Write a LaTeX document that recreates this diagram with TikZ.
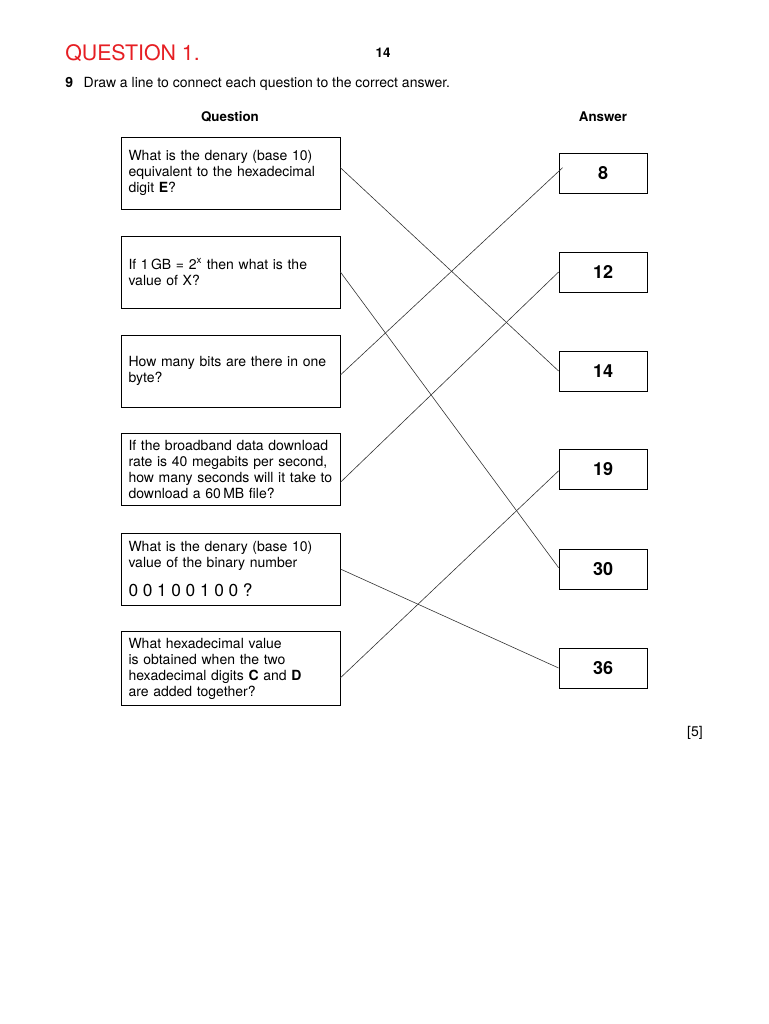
\documentclass[tikz,border=0pt]{standalone}
\usepackage{fontspec}
\setmainfont{TeX Gyre Heros}
\usepackage{xcolor}
\definecolor{titlered}{RGB}{230,30,35}

\begin{document}
\begin{tikzpicture}[x=0.75pt,y=-0.75pt,
	qbox/.style={draw=black,line width=0.6pt,minimum width=164.25pt,minimum height=54pt,
		text width=153pt,inner sep=5pt,align=left,font=\fontsize{10.5}{12}\selectfont},
	abox/.style={draw=black,line width=0.6pt,minimum width=66pt,minimum height=30pt,
		inner sep=0pt,font=\fontsize{13.5}{15}\selectfont\bfseries},
	link/.style={draw=black!80,line width=0.45pt}]
	\useasboundingbox (0,0) rectangle (768,1024);
	% heading
	\node [anchor=base west,inner sep=0pt,text=titlered,font=\fontsize{16}{18}\selectfont] (title) at (65,61) {QUESTION 1.};
	\node [anchor=base,inner sep=0pt,font=\fontsize{10}{12}\selectfont\bfseries] (page) at (383,58) {14};
	\node [anchor=base west,inner sep=0pt,font=\fontsize{10.5}{12}\selectfont] (task) at (65,88) {\textbf{9}\hspace{8pt}Draw a line to connect each question to the correct answer.};
	\node [inner sep=0pt,font=\fontsize{10}{12}\selectfont\bfseries] (qhead) at (230,117) {Question};
	\node [inner sep=0pt,font=\fontsize{10}{12}\selectfont\bfseries] (ahead) at (603,117) {Answer};
	% questions
	\node [qbox] (q1) at (230.5,173) {What is the denary (base 10)\\ equivalent to the hexadecimal\\ digit \textbf{E}?};
	\node [qbox] (q2) at (230.5,272) {If 1\,GB = 2\textsuperscript{x} then what is the\\ value of X?};
	\node [qbox] (q3) at (230.5,371) {How many bits are there in one\\ byte?};
	\node [qbox] (q4) at (230.5,469) {If the broadband data download\\ rate is 40 megabits per second,\\ how many seconds will it take to\\ download a 60\,MB file?};
	\node [qbox] (q5) at (230.5,569) {What is the denary (base 10)\\ value of the binary number\\[10pt] {\fontsize{13}{14}\selectfont 0 0 1 0 0 1 0 0 ?}};
	\node [qbox] (q6) at (230.5,668.5) {What hexadecimal value\\ is obtained when the two\\ hexadecimal digits \textbf{C} and \textbf{D}\\ are added together?};
	% answers
	\node [abox] (a8) at (603,173) {8};
	\node [abox] (a12) at (603,272) {12};
	\node [abox] (a14) at (603,371) {14};
	\node [abox] (a19) at (603,469.5) {19};
	\node [abox] (a30) at (603,569) {30};
	\node [abox] (a36) at (603,668) {36};
	\node [anchor=base,inner sep=0pt,font=\fontsize{10.5}{12}\selectfont] (marks) at (695,736) {[5]};
	% answer lines
	\draw [link] ([yshift=4pt]q1.east) -- (a14.west);
	\draw [link] (q2.east) -- ([yshift=1pt]a30.west);
	\draw [link] ([yshift=-3pt]q3.east) -- ([xshift=3pt,yshift=4pt]a8.west);
	\draw [link] ([yshift=-10pt]q4.east) -- (a12.west);
	\draw [link] (q5.east) -- (a36.west);
	\draw [link] ([yshift=-7pt]q6.east) -- ([yshift=-1pt]a19.west);
\end{tikzpicture}
\end{document}
